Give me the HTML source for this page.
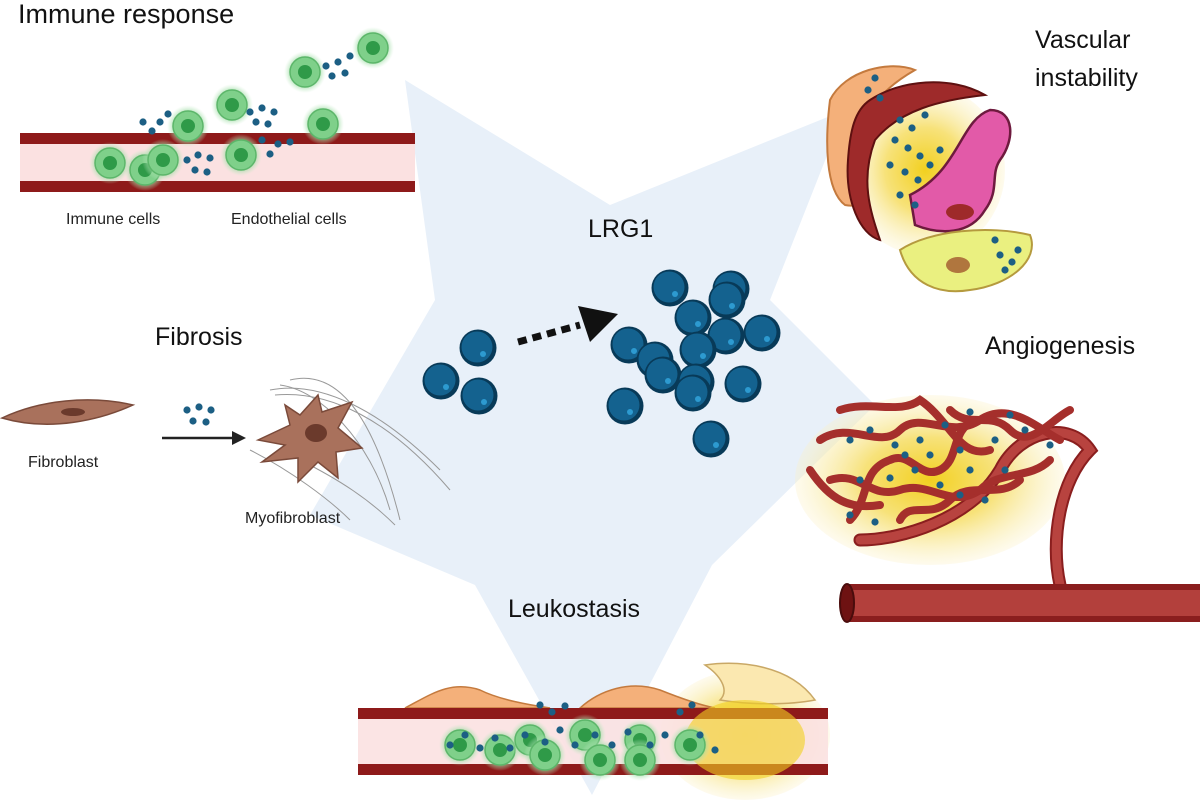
<!DOCTYPE html>
<html><head><meta charset="utf-8"><style>
html,body{margin:0;padding:0;background:#fff;}
svg{display:block;font-family:"Liberation Sans",sans-serif;}
</style></head><body>
<svg width="1200" height="800" viewBox="0 0 1200 800" xmlns="http://www.w3.org/2000/svg">
<defs>
<radialGradient id="glowY" cx="50%" cy="50%" r="50%"><stop offset="0" stop-color="#f2d020"/><stop offset="0.5" stop-color="#f7e27a"/><stop offset="1" stop-color="#fbf1c4" stop-opacity="0.3"/></radialGradient>
<radialGradient id="glowG" cx="50%" cy="50%" r="50%"><stop offset="0.55" stop-color="#7dcf86"/><stop offset="1" stop-color="#c6ecc9" stop-opacity="0"/></radialGradient>
<g id="ball"><circle r="18.5" fill="#083a58"/><circle r="15.5" cx="-1" cy="-1" fill="#14628f"/><circle r="3" cx="5" cy="6" fill="#2d9ad0"/></g>
<g id="cell"><circle r="21" fill="url(#glowG)"/><circle r="15" fill="#7fd08a" stroke="#5cb66a" stroke-width="1.5"/><circle r="7" fill="#2f9a48"/></g>
<g id="dot"><circle r="3.6" fill="#1c5f84"/></g>
</defs>
<!-- star -->
<polygon points="405,80 610,205 845,110 770,300 875,405 712,565 592,795 475,585 310,515 435,300" fill="#e8f0f9"/>

<!-- Immune response -->
<text x="18" y="23" font-size="27" fill="#111">Immune response</text>
<rect x="20" y="133" width="395" height="59" fill="#fbe1e1"/>
<rect x="20" y="133" width="395" height="11" fill="#8e1a1a"/>
<rect x="20" y="181" width="395" height="11" fill="#8e1a1a"/>
<use href="#cell" x="110" y="163"/><use href="#cell" x="145" y="170"/><use href="#cell" x="163" y="160"/>
<use href="#cell" x="188" y="126"/><use href="#cell" x="232" y="105"/><use href="#cell" x="241" y="155"/>
<use href="#cell" x="323" y="124"/><use href="#cell" x="305" y="72"/><use href="#cell" x="373" y="48"/>
<g>
<use href="#dot" x="143" y="122"/><use href="#dot" x="152" y="131"/><use href="#dot" x="160" y="122"/><use href="#dot" x="168" y="114"/>
<use href="#dot" x="187" y="160"/><use href="#dot" x="198" y="155"/><use href="#dot" x="210" y="158"/><use href="#dot" x="195" y="170"/><use href="#dot" x="207" y="172"/>
<use href="#dot" x="250" y="112"/><use href="#dot" x="262" y="108"/><use href="#dot" x="274" y="112"/><use href="#dot" x="256" y="122"/><use href="#dot" x="268" y="124"/>
<use href="#dot" x="262" y="140"/><use href="#dot" x="278" y="144"/><use href="#dot" x="290" y="142"/><use href="#dot" x="270" y="154"/>
<use href="#dot" x="326" y="66"/><use href="#dot" x="338" y="62"/><use href="#dot" x="350" y="56"/><use href="#dot" x="332" y="76"/><use href="#dot" x="345" y="73"/>
</g>
<text x="66" y="224" font-size="16" fill="#222">Immune cells</text>
<text x="231" y="224" font-size="16" fill="#222">Endothelial cells</text>

<!-- LRG1 -->
<text x="588" y="237" font-size="25" fill="#111">LRG1</text>
<use href="#ball" x="478" y="348"/><use href="#ball" x="441" y="381"/><use href="#ball" x="479" y="396"/>
<line x1="518" y1="342" x2="580" y2="325" stroke="#111" stroke-width="7" stroke-dasharray="9,6"/>
<polygon points="578,306 618,314 590,342" fill="#111"/>
<use href="#ball" x="670" y="288"/><use href="#ball" x="731" y="289"/><use href="#ball" x="727" y="300"/>
<use href="#ball" x="693" y="318"/><use href="#ball" x="629" y="345"/><use href="#ball" x="726" y="336"/><use href="#ball" x="762" y="333"/>
<use href="#ball" x="698" y="350"/><use href="#ball" x="655" y="360"/><use href="#ball" x="663" y="375"/><use href="#ball" x="696" y="382"/>
<use href="#ball" x="743" y="384"/><use href="#ball" x="693" y="393"/><use href="#ball" x="625" y="406"/><use href="#ball" x="711" y="439"/>

<!-- Fibrosis -->
<text x="155" y="345" font-size="25" fill="#111">Fibrosis</text>
<path d="M2,418 C40,400 90,395 133,405 C100,420 50,432 2,418 Z" fill="#a9715c" stroke="#7a4a3a" stroke-width="1.5"/>
<ellipse cx="73" cy="412" rx="12" ry="4" fill="#6b3a2c"/>
<text x="28" y="467" font-size="16" fill="#222">Fibroblast</text>
<line x1="162" y1="438" x2="232" y2="438" stroke="#222" stroke-width="2.5"/>
<polygon points="232,431 246,438 232,445" fill="#222"/>
<use href="#dot" x="187" y="410"/><use href="#dot" x="199" y="407"/><use href="#dot" x="211" y="410"/><use href="#dot" x="193" y="421"/><use href="#dot" x="206" y="422"/>
<g fill="none" stroke="#999" stroke-width="1">
<path d="M270,390 C320,380 380,410 440,470"/><path d="M275,395 C330,390 390,420 450,490"/>
<path d="M290,380 C330,370 370,400 400,520"/><path d="M280,385 C320,390 370,440 390,510"/>
<path d="M250,450 C290,470 330,500 350,520"/><path d="M300,460 C340,480 370,500 395,525"/>
</g>
<path d="M258,440 L290,425 L285,405 L300,415 L318,395 L322,412 L352,402 L338,428 L362,448 L336,452 L338,478 L318,462 L298,482 L298,458 L262,462 L285,445 Z" fill="#a9715c" stroke="#7a4a3a" stroke-width="1.5"/>
<ellipse cx="316" cy="433" rx="11" ry="9" fill="#6b3a2c"/>
<text x="245" y="523" font-size="16" fill="#222">Myofibroblast</text>

<!-- Vascular instability -->
<text x="1035" y="48" font-size="25" fill="#111">Vascular</text>
<text x="1035" y="86" font-size="25" fill="#111">instability</text>
<ellipse cx="925" cy="170" rx="80" ry="85" fill="url(#glowY)"/>
<path d="M830,100 C845,70 890,60 915,70 C880,90 865,110 860,150 C855,190 870,210 845,205 C825,190 825,140 830,100 Z" fill="#f4b07a" stroke="#c47a3e" stroke-width="2"/>
<path d="M870,100 C900,80 950,75 985,95 C940,100 900,110 875,140 C860,180 870,210 880,240 C860,235 845,200 848,160 C850,130 855,110 870,100 Z" fill="#9e2a2a" stroke="#5e1010" stroke-width="2"/>
<path d="M910,195 C960,170 960,120 990,110 C1015,110 1015,140 1000,160 C990,175 1000,190 985,210 C970,235 940,235 915,225 Z" fill="#e25aa8" stroke="#6e1a3e" stroke-width="2.5"/>
<ellipse cx="960" cy="212" rx="14" ry="8" fill="#9e2a2a"/>
<path d="M900,250 C930,230 990,225 1030,235 C1040,260 1010,285 970,290 C940,295 910,285 900,250 Z" fill="#eaf080" stroke="#b59a3e" stroke-width="2"/>
<ellipse cx="958" cy="265" rx="12" ry="8" fill="#b0763e"/>
<g>
<use href="#dot" x="875" y="78"/><use href="#dot" x="868" y="90"/><use href="#dot" x="880" y="98"/>
<use href="#dot" x="900" y="120"/><use href="#dot" x="912" y="128"/><use href="#dot" x="895" y="140"/><use href="#dot" x="908" y="148"/><use href="#dot" x="920" y="156"/>
<use href="#dot" x="890" y="165"/><use href="#dot" x="905" y="172"/><use href="#dot" x="918" y="180"/><use href="#dot" x="930" y="165"/><use href="#dot" x="940" y="150"/>
<use href="#dot" x="900" y="195"/><use href="#dot" x="915" y="205"/><use href="#dot" x="925" y="115"/>
<use href="#dot" x="1000" y="255"/><use href="#dot" x="1012" y="262"/><use href="#dot" x="1005" y="270"/><use href="#dot" x="1018" y="250"/><use href="#dot" x="995" y="240"/>
</g>

<!-- Angiogenesis -->
<text x="985" y="354" font-size="25" fill="#111">Angiogenesis</text>
<ellipse cx="930" cy="480" rx="135" ry="85" fill="url(#glowY)"/>
<g fill="none" stroke-linecap="round">
<path d="M1060,585 C1050,540 1060,480 1090,450 C1070,420 1020,430 1000,470 C970,520 900,540 860,540" stroke="#8a1e1e" stroke-width="13"/>
<path d="M1060,585 C1050,540 1060,480 1090,450 C1070,420 1020,430 1000,470 C970,520 900,540 860,540" stroke="#b8433f" stroke-width="9"/>
</g>
<g fill="none" stroke="#a52f2c" stroke-width="8" stroke-linecap="round">
<path d="M820,440 C850,420 880,450 900,430 C920,410 950,440 980,420 C1010,400 1040,430 1060,440"/>
<path d="M830,480 C860,470 870,500 900,490 C930,480 950,510 980,490 C1000,470 1030,480 1050,460"/>
<path d="M850,520 C870,500 860,470 890,460 C910,450 920,480 940,470 C960,460 950,430 975,420"/>
<path d="M840,410 C870,400 900,415 920,400 C950,420 960,460 990,450"/>
<path d="M900,520 C910,500 930,520 950,500 C970,480 1000,500 1020,480"/>
<path d="M810,470 C830,500 850,510 880,505"/>
<path d="M950,410 C970,430 990,410 1010,430 C1030,450 1050,420 1070,410"/>
</g>
<g>
<use href="#dot" x="850" y="440"/><use href="#dot" x="870" y="430"/><use href="#dot" x="895" y="445"/><use href="#dot" x="920" y="440"/><use href="#dot" x="945" y="425"/>
<use href="#dot" x="970" y="412"/><use href="#dot" x="995" y="440"/><use href="#dot" x="1025" y="430"/><use href="#dot" x="1050" y="445"/>
<use href="#dot" x="860" y="480"/><use href="#dot" x="890" y="478"/><use href="#dot" x="915" y="470"/><use href="#dot" x="940" y="485"/><use href="#dot" x="970" y="470"/>
<use href="#dot" x="1005" y="470"/><use href="#dot" x="960" y="495"/><use href="#dot" x="985" y="500"/><use href="#dot" x="850" y="515"/><use href="#dot" x="875" y="522"/>
<use href="#dot" x="905" y="455"/><use href="#dot" x="930" y="455"/><use href="#dot" x="960" y="450"/><use href="#dot" x="1010" y="415"/>
</g>
<rect x="845" y="584" width="355" height="38" fill="#b3403c"/>
<rect x="845" y="584" width="355" height="6" fill="#8a1e1e"/>
<rect x="845" y="616" width="355" height="6" fill="#8a1e1e"/>
<ellipse cx="847" cy="603" rx="7" ry="19" fill="#6e1212" stroke="#4a0c0c" stroke-width="2"/>

<!-- Leukostasis -->
<text x="508" y="617" font-size="25" fill="#111">Leukostasis</text>
<ellipse cx="745" cy="735" rx="85" ry="65" fill="url(#glowY)"/>
<path d="M405,708 C430,695 450,680 480,690 C500,700 530,705 550,708 Z" fill="#f4b07a" stroke="#c47a3e" stroke-width="1.5"/>
<path d="M580,708 C600,690 630,680 660,690 C680,698 700,705 715,708 Z" fill="#f4b07a" stroke="#c47a3e" stroke-width="1.5"/>
<path d="M705,665 C740,660 790,665 815,700 C790,705 750,705 720,700 C730,690 720,675 705,665 Z" fill="#fbe8b0" stroke="#c9a866" stroke-width="1.5"/>
<rect x="358" y="708" width="470" height="67" fill="#fbe1e1" opacity="0.9"/>
<rect x="358" y="708" width="470" height="11" fill="#8e1a1a"/>
<rect x="358" y="764" width="470" height="11" fill="#8e1a1a"/>
<ellipse cx="745" cy="740" rx="60" ry="40" fill="#f2d020" opacity="0.6"/>
<use href="#cell" x="460" y="745"/><use href="#cell" x="500" y="750"/><use href="#cell" x="530" y="740"/><use href="#cell" x="545" y="755"/>
<use href="#cell" x="585" y="735"/><use href="#cell" x="600" y="760"/><use href="#cell" x="640" y="740"/><use href="#cell" x="640" y="760"/>
<use href="#cell" x="690" y="745"/>
<g>
<use href="#dot" x="450" y="745"/><use href="#dot" x="465" y="735"/><use href="#dot" x="480" y="748"/><use href="#dot" x="495" y="738"/><use href="#dot" x="510" y="748"/>
<use href="#dot" x="525" y="735"/><use href="#dot" x="545" y="742"/><use href="#dot" x="560" y="730"/><use href="#dot" x="575" y="745"/><use href="#dot" x="595" y="735"/>
<use href="#dot" x="612" y="745"/><use href="#dot" x="628" y="732"/><use href="#dot" x="650" y="745"/><use href="#dot" x="665" y="735"/><use href="#dot" x="700" y="735"/>
<use href="#dot" x="715" y="750"/><use href="#dot" x="540" y="705"/><use href="#dot" x="552" y="712"/><use href="#dot" x="565" y="706"/><use href="#dot" x="680" y="712"/><use href="#dot" x="692" y="705"/>
</g>
</svg>
</body></html>
